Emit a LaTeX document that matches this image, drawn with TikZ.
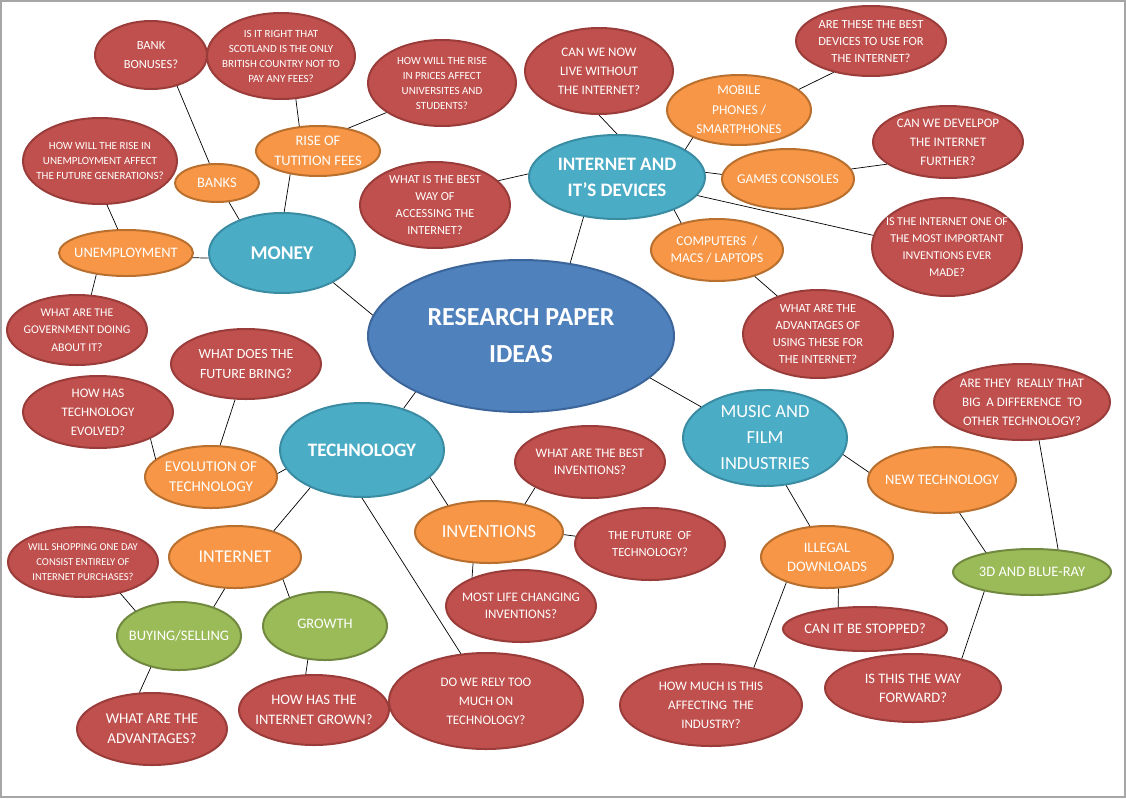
\documentclass[tikz,border=0pt]{standalone}
\usepackage{fontspec}
\setmainfont{Carlito}
\usetikzlibrary{shapes.geometric}
\definecolor{qred}{HTML}{C0504D}
\definecolor{qredline}{HTML}{9A3C3A}
\definecolor{torange}{HTML}{F79646}
\definecolor{torangeline}{HTML}{B96F2E}
\definecolor{hteal}{HTML}{4BACC6}
\definecolor{htealline}{HTML}{3A8CA3}
\definecolor{sgreen}{HTML}{9BBB59}
\definecolor{sgreenline}{HTML}{71893F}
\definecolor{cblue}{HTML}{4F81BD}
\definecolor{cblueline}{HTML}{3C6699}
\definecolor{framegray}{HTML}{A6A6A6}
\tikzset{
 blob/.style={
 ellipse,
 line width=2pt,
 text=white,
 inner xsep=-25pt, inner ysep=-15pt,
 align=center},
 question/.style={blob, fill=qred, draw=qredline},
 topic/.style={blob, fill=torange, draw=torangeline},
 subtopic/.style={blob, fill=sgreen, draw=sgreenline},
 hub/.style={blob, fill=hteal, draw=htealline},
 core/.style={blob, fill=cblue, draw=cblueline},
 dims/.style 2 args={minimum width=#1pt, minimum height=#2pt},
 fs/.style 2 args={font=\fontsize{#1}{#2}\selectfont},
 conn/.style={draw=black, line width=0.7pt}
}

\begin{document}
\begin{tikzpicture}[x=1pt,y=-1pt]
 \useasboundingbox (0,0) rectangle (1126,798);
 \fill[white] (0,0) rectangle (1126,798);
 \draw[framegray, line width=2pt] (1,1) rectangle (1125,797);

 \node[core, dims={306}{152}, fs={26}{37}] (ideas) at (521,336) {\bfseries RESEARCH PAPER\\\bfseries IDEAS};

 \node[hub, dims={146}{80}, fs={19.5}{26}] (money) at (282,253) {\bfseries MONEY};
 \node[hub, dims={176}{84}, fs={19}{26}] (devices) at (617,177) {\bfseries INTERNET AND\\\bfseries IT’S DEVICES};
 \node[hub, dims={164}{94}, fs={19}{26}] (tech) at (362,450) {\bfseries TECHNOLOGY};
 \node[hub, dims={164}{96}, fs={18.5}{26}] (music) at (765,438) {MUSIC AND\\FILM\\INDUSTRIES};

 \node[topic, dims={84}{38}, fs={14.5}{19}] (banks) at (217,183) {BANKS};
 \node[topic, dims={124}{50}, fs={14.5}{20}] (fees) at (318,151) {RISE OF\\TUTITION FEES};
 \node[topic, dims={134}{46}, fs={14.5}{19}] (unemp) at (126,253) {UNEMPLOYMENT};
 \node[topic, dims={144}{70}, fs={13.5}{19.5}] (mobile) at (739,110) {MOBILE\\PHONES /\\SMARTPHONES};
 \node[topic, dims={132}{60}, fs={13.5}{19}] (games) at (788,179) {GAMES CONSOLES};
 \node[topic, dims={132}{62}, fs={13.5}{17}] (computers) at (717,250) {COMPUTERS~ /\\MACS / LAPTOPS};
 \node[topic, dims={132}{62}, fs={15}{20}] (evolution) at (211,477) {EVOLUTION OF\\TECHNOLOGY};
 \node[topic, dims={148}{62}, fs={18.5}{24}] (inventions) at (489,532) {INVENTIONS};
 \node[topic, dims={132}{62}, fs={18}{24}] (internet) at (235,557) {INTERNET};
 \node[topic, dims={148}{66}, fs={14.5}{19}] (newtech) at (942,480) {NEW TECHNOLOGY};
 \node[topic, dims={132}{62}, fs={14.5}{19}] (illegal) at (827,557) {ILLEGAL\\DOWNLOADS};

 \node[subtopic, dims={124}{68}, fs={14.5}{19}] (buying) at (179,636) {BUYING/SELLING};
 \node[subtopic, dims={124}{68}, fs={14.5}{19}] (growth) at (325,626) {\raisebox{4pt}{GROWTH}};
 \node[subtopic, dims={158}{46}, fs={14.5}{19}] (bluray) at (1032,572) {3D AND BLUE-RAY};

 \node[question, dims={112}{68}, fs={12.5}{19}] (bonuses) at (151,55) {BANK\\BONUSES?};
 \node[question, dims={148}{86}, fs={11}{15}] (scotland) at (281,56) {IS IT RIGHT THAT\\SCOTLAND IS THE ONLY\\BRITISH COUNTRY NOT TO\\PAY ANY FEES?};
 \node[question, dims={154}{86}, fs={11}{15}] (unempfut) at (100,161) {HOW WILL THE RISE IN\\UNEMPLOYMENT AFFECT\\THE FUTURE GENERATIONS?};
 \node[question, dims={148}{86}, fs={11}{15}] (prices) at (442,83) {HOW WILL THE RISE\\IN PRICES AFFECT\\UNIVERSITES AND\\STUDENTS?};
 \node[question, dims={140}{70}, fs={11.8}{17.5}] (govt) at (77,330) {WHAT ARE THE\\GOVERNMENT DOING\\ABOUT IT?};
 \node[question, dims={148}{86}, fs={13}{19}] (livewo) at (599,71) {CAN WE NOW\\LIVE WITHOUT\\THE INTERNET?};
 \node[question, dims={150}{86}, fs={12.3}{17}] (access) at (435,205) {WHAT IS THE BEST\\WAY OF\\ACCESSING THE\\INTERNET?};
 \node[question, dims={150}{70}, fs={12.5}{17}] (bestdev) at (871,41) {ARE THESE THE BEST\\DEVICES TO USE FOR\\THE INTERNET?};
 \node[question, dims={150}{72}, fs={13}{19}] (develop) at (948,142) {CAN WE DEVELPOP\\THE INTERNET\\FURTHER?};
 \node[question, dims={150}{98}, fs={12}{17}] (important) at (947,247) {IS THE INTERNET ONE OF\\THE MOST IMPORTANT\\INVENTIONS EVER\\MADE?};
 \node[question, dims={150}{88}, fs={12.4}{17}] (advuse) at (818,334) {WHAT ARE THE\\ADVANTAGES OF\\USING THESE FOR\\THE INTERNET?};
 \node[question, dims={150}{70}, fs={14}{20}] (future) at (246,364) {WHAT DOES THE\\FUTURE BRING?};
 \node[question, dims={150}{72}, fs={13}{19}] (evolved) at (98,412) {HOW HAS\\TECHNOLOGY\\EVOLVED?};
 \node[question, dims={150}{72}, fs={13}{17}] (bestinv) at (590,462) {WHAT ARE THE BEST\\INVENTIONS?};
 \node[question, dims={150}{72}, fs={12.5}{17.5}] (futtech) at (650,544) {THE FUTURE~ OF\\TECHNOLOGY?};
 \node[question, dims={150}{72}, fs={13}{17}] (lifechg) at (521,606) {MOST LIFE CHANGING\\INVENTIONS?};
 \node[question, dims={194}{96}, fs={13}{19}] (rely) at (486,701) {DO WE RELY TOO\\MUCH ON\\TECHNOLOGY?};
 \node[question, dims={182}{82}, fs={13}{19}] (affect) at (711,705) {HOW MUCH IS THIS\\AFFECTING~ THE\\INDUSTRY?};
 \node[question, dims={176}{76}, fs={13}{19}] (bigdiff) at (1022,402) {ARE THEY~ REALLY THAT\\BIG~ A DIFFERENCE~ TO\\OTHER TECHNOLOGY?};
 \node[question, dims={164}{44}, fs={14.5}{19}] (stopped) at (865,629) {CAN IT BE STOPPED?};
 \node[question, dims={176}{68}, fs={14.5}{19}] (forward) at (913,688) {IS THIS THE WAY\\FORWARD?};
 \node[question, dims={150}{70}, fs={10.6}{15}] (shopping) at (83,562) {WILL SHOPPING ONE DAY\\CONSIST ENTIRELY OF\\INTERNET PURCHASES?};
 \node[question, dims={150}{72}, fs={15}{20}] (advant) at (152,729) {WHAT ARE THE\\ADVANTAGES?};
 \node[question, dims={150}{70}, fs={14.5}{19.5}] (grown) at (314,710) {HOW HAS THE\\INTERNET GROWN?};

 \draw[conn] (bonuses.-50) -- (banks.111);
 \draw[conn] (banks.-58) -- (money.142);
 \draw[conn] (scotland.-71) -- (fees.127);
 \draw[conn] (fees.37) -- (prices.-152);
 \draw[conn] (fees.220) -- (money.87);
 \draw[conn] (unempfut.-81) -- (unemp.109);
 \draw[conn] (unemp.-4) -- (money.-176);
 \draw[conn] (unemp.216) -- (govt.68);
 \draw[conn] (money.-30) -- (ideas.172);

 \draw[conn] (devices.230) -- (ideas.56);
 \draw[conn] (livewo.-90) -- (devices.90);
 \draw[conn] (access.21) -- (devices.178);
 \draw[conn] (devices.22) -- (mobile.211);
 \draw[conn] (mobile.19) -- (bestdev.220);
 \draw[conn] (devices.3) -- (games.176);
 \draw[conn] (games.9) -- (develop.200);
 \draw[conn] (devices.-13) -- (important.171);
 \draw[conn] (devices.-30) -- (computers.143);
 \draw[conn] (computers.-35) -- (advuse.137);

 \draw[conn] (ideas.208) -- (tech.45);
 \draw[conn] (tech.194) -- (evolution.3);
 \draw[conn] (evolution.74) -- (future.-107);
 \draw[conn] (evolution.162) -- (evolved.-27);
 \draw[conn] (tech.216) -- (internet.34);
 \draw[conn] (tech.-90) -- (rely.118);
 \draw[conn] (tech.-22) -- (inventions.147);
 \draw[conn] (inventions.38) -- (bestinv.205);
 \draw[conn] (inventions.-2) -- (futtech.174);
 \draw[conn] (inventions.-117) -- (lifechg.150);
 \draw[conn] (internet.252) -- (buying.40);
 \draw[conn] (internet.-25) -- (growth.141);
 \draw[conn] (shopping.-40) -- (buying.150);
 \draw[conn] (buying.228) -- (advant.109);
 \draw[conn] (growth.243) -- (grown.103);

 \draw[conn] (ideas.-18) -- (music.154);
 \draw[conn] (music.-12) -- (newtech.174);
 \draw[conn] (music.-66) -- (illegal.119);
 \draw[conn] (newtech.-62) -- (bluray.157);
 \draw[conn] (bigdiff.-66) -- (bluray.41);
 \draw[conn] (bluray.202) -- (forward.31);
 \draw[conn] (illegal.-70) -- (stopped.141);
 \draw[conn] (illegal.212) -- (affect.41);
\end{tikzpicture}
\end{document}
